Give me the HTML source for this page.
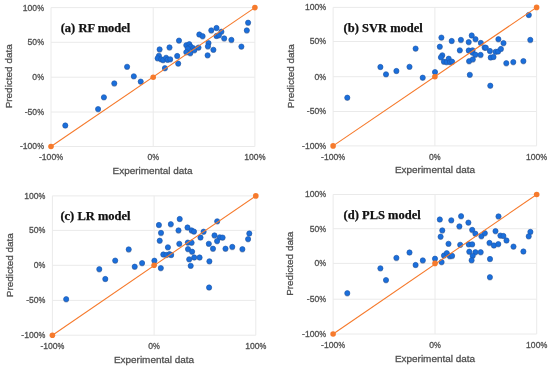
<!DOCTYPE html>
<html><head><meta charset="utf-8"><style>
html,body{margin:0;padding:0;background:#fff;}
svg{display:block;will-change:transform;font-family:"Liberation Sans",sans-serif;}
</style></head><body>
<svg width="550" height="367" viewBox="0 0 550 367">
<rect width="550" height="367" fill="#fff"/>
<g stroke="#eaeaea" stroke-width="1"><line x1="51.00" y1="7.60" x2="254.90" y2="7.60"/><line x1="51.00" y1="42.30" x2="254.90" y2="42.30"/><line x1="51.00" y1="77.20" x2="254.90" y2="77.20"/><line x1="51.00" y1="112.00" x2="254.90" y2="112.00"/><line x1="51.00" y1="146.50" x2="254.90" y2="146.50"/><line x1="51.00" y1="7.60" x2="51.00" y2="146.50"/><line x1="153.20" y1="7.60" x2="153.20" y2="146.50"/><line x1="254.90" y1="7.60" x2="254.90" y2="146.50"/></g>
<g fill="#505050" font-size="8.6" stroke="#505050" stroke-width="0.3"><text x="37.15" y="10.50" text-anchor="end">100</text><text x="37.15" y="10.50" textLength="6.85" lengthAdjust="spacingAndGlyphs">%</text><text x="37.15" y="45.20" text-anchor="end">50</text><text x="37.15" y="45.20" textLength="6.85" lengthAdjust="spacingAndGlyphs">%</text><text x="37.15" y="80.10" text-anchor="end">0</text><text x="37.15" y="80.10" textLength="6.85" lengthAdjust="spacingAndGlyphs">%</text><text x="37.15" y="114.90" text-anchor="end">-50</text><text x="37.15" y="114.90" textLength="6.85" lengthAdjust="spacingAndGlyphs">%</text><text x="37.15" y="149.40" text-anchor="end">-100</text><text x="37.15" y="149.40" textLength="6.85" lengthAdjust="spacingAndGlyphs">%</text><text x="56.18" y="159.50" text-anchor="end">-100</text><text x="56.18" y="159.50" textLength="6.85" lengthAdjust="spacingAndGlyphs">%</text><text x="152.17" y="159.50" text-anchor="end">0</text><text x="152.17" y="159.50" textLength="6.85" lengthAdjust="spacingAndGlyphs">%</text><text x="258.65" y="159.50" text-anchor="end">100</text><text x="258.65" y="159.50" textLength="6.85" lengthAdjust="spacingAndGlyphs">%</text></g>
<text x="152.60" y="174.00" text-anchor="middle" fill="#505050" font-size="9.95" stroke="#505050" stroke-width="0.3">Experimental data</text>
<text transform="translate(11.80,76.30) rotate(-90)" text-anchor="middle" fill="#505050" font-size="9.95" stroke="#505050" stroke-width="0.3">Predicted data</text>
<g fill="rgba(30,50,90,0.35)"><circle cx="65.3" cy="126.0" r="2.8"/><circle cx="98.1" cy="109.6" r="2.8"/><circle cx="103.9" cy="97.8" r="2.8"/><circle cx="114.3" cy="83.9" r="2.8"/><circle cx="127.1" cy="67.3" r="2.8"/><circle cx="133.8" cy="76.8" r="2.8"/><circle cx="140.7" cy="82.1" r="2.8"/><circle cx="159.6" cy="49.9" r="2.8"/><circle cx="169.5" cy="47.9" r="2.8"/><circle cx="179.0" cy="41.1" r="2.8"/><circle cx="177.2" cy="56.5" r="2.8"/><circle cx="178.2" cy="64.1" r="2.8"/><circle cx="164.9" cy="68.7" r="2.8"/><circle cx="158.9" cy="56.3" r="2.8"/><circle cx="157.6" cy="58.8" r="2.8"/><circle cx="161.1" cy="59.8" r="2.8"/><circle cx="163.1" cy="60.6" r="2.8"/><circle cx="166.1" cy="58.3" r="2.8"/><circle cx="167.6" cy="60.3" r="2.8"/><circle cx="170.2" cy="59.8" r="2.8"/><circle cx="186.3" cy="45.7" r="2.8"/><circle cx="189.3" cy="44.7" r="2.8"/><circle cx="190.8" cy="47.2" r="2.8"/><circle cx="187.8" cy="49.2" r="2.8"/><circle cx="193.3" cy="48.7" r="2.8"/><circle cx="186.3" cy="52.7" r="2.8"/><circle cx="190.3" cy="53.7" r="2.8"/><circle cx="194.4" cy="50.7" r="2.8"/><circle cx="198.5" cy="48.1" r="2.8"/><circle cx="248.1" cy="23.2" r="2.8"/><circle cx="246.8" cy="30.9" r="2.8"/><circle cx="241.4" cy="47.1" r="2.8"/><circle cx="231.4" cy="40.4" r="2.8"/><circle cx="224.2" cy="38.9" r="2.8"/><circle cx="221.4" cy="32.2" r="2.8"/><circle cx="216.5" cy="28.5" r="2.8"/><circle cx="211.3" cy="30.9" r="2.8"/><circle cx="216.5" cy="36.5" r="2.8"/><circle cx="218.9" cy="35.8" r="2.8"/><circle cx="199.3" cy="35.0" r="2.8"/><circle cx="202.6" cy="36.7" r="2.8"/><circle cx="208.5" cy="43.6" r="2.8"/><circle cx="207.9" cy="46.9" r="2.8"/><circle cx="213.4" cy="50.3" r="2.8"/><circle cx="207.6" cy="55.8" r="2.8"/></g>
<g fill="#1a6fdc" stroke="#1d58ad" stroke-width="0.6"><circle cx="65.3" cy="125.4" r="2.55"/><circle cx="98.1" cy="109.0" r="2.55"/><circle cx="103.9" cy="97.2" r="2.55"/><circle cx="114.3" cy="83.3" r="2.55"/><circle cx="127.1" cy="66.7" r="2.55"/><circle cx="133.8" cy="76.2" r="2.55"/><circle cx="140.7" cy="81.5" r="2.55"/><circle cx="159.6" cy="49.3" r="2.55"/><circle cx="169.5" cy="47.3" r="2.55"/><circle cx="179.0" cy="40.5" r="2.55"/><circle cx="177.2" cy="55.9" r="2.55"/><circle cx="178.2" cy="63.5" r="2.55"/><circle cx="164.9" cy="68.1" r="2.55"/><circle cx="158.9" cy="55.7" r="2.55"/><circle cx="157.6" cy="58.2" r="2.55"/><circle cx="161.1" cy="59.2" r="2.55"/><circle cx="163.1" cy="60.0" r="2.55"/><circle cx="166.1" cy="57.7" r="2.55"/><circle cx="167.6" cy="59.7" r="2.55"/><circle cx="170.2" cy="59.2" r="2.55"/><circle cx="186.3" cy="45.1" r="2.55"/><circle cx="189.3" cy="44.1" r="2.55"/><circle cx="190.8" cy="46.6" r="2.55"/><circle cx="187.8" cy="48.6" r="2.55"/><circle cx="193.3" cy="48.1" r="2.55"/><circle cx="186.3" cy="52.1" r="2.55"/><circle cx="190.3" cy="53.1" r="2.55"/><circle cx="194.4" cy="50.1" r="2.55"/><circle cx="198.5" cy="47.5" r="2.55"/><circle cx="248.1" cy="22.6" r="2.55"/><circle cx="246.8" cy="30.3" r="2.55"/><circle cx="241.4" cy="46.5" r="2.55"/><circle cx="231.4" cy="39.8" r="2.55"/><circle cx="224.2" cy="38.3" r="2.55"/><circle cx="221.4" cy="31.6" r="2.55"/><circle cx="216.5" cy="27.9" r="2.55"/><circle cx="211.3" cy="30.3" r="2.55"/><circle cx="216.5" cy="35.9" r="2.55"/><circle cx="218.9" cy="35.2" r="2.55"/><circle cx="199.3" cy="34.4" r="2.55"/><circle cx="202.6" cy="36.1" r="2.55"/><circle cx="208.5" cy="43.0" r="2.55"/><circle cx="207.9" cy="46.3" r="2.55"/><circle cx="213.4" cy="49.7" r="2.55"/><circle cx="207.6" cy="55.2" r="2.55"/></g>
<line x1="51.00" y1="146.50" x2="254.90" y2="7.60" stroke="#f67a2c" stroke-width="1.05"/>
<g fill="#f67a2c"><circle cx="51.00" cy="146.50" r="2.8"/><circle cx="153.20" cy="77.20" r="2.8"/><circle cx="254.90" cy="7.60" r="2.8"/></g>
<text x="60.70" y="31.60" font-family="Liberation Serif" font-weight="bold" font-size="12.5" fill="#111" stroke="#111" stroke-width="0.25">(a) RF model</text>
<g stroke="#eaeaea" stroke-width="1"><line x1="333.10" y1="7.40" x2="536.60" y2="7.40"/><line x1="333.10" y1="41.50" x2="536.60" y2="41.50"/><line x1="333.10" y1="76.70" x2="536.60" y2="76.70"/><line x1="333.10" y1="111.50" x2="536.60" y2="111.50"/><line x1="333.10" y1="145.90" x2="536.60" y2="145.90"/><line x1="333.10" y1="7.40" x2="333.10" y2="145.90"/><line x1="434.90" y1="7.40" x2="434.90" y2="145.90"/><line x1="536.60" y1="7.40" x2="536.60" y2="145.90"/></g>
<g fill="#505050" font-size="8.6" stroke="#505050" stroke-width="0.3"><text x="319.25" y="10.30" text-anchor="end">100</text><text x="319.25" y="10.30" textLength="6.85" lengthAdjust="spacingAndGlyphs">%</text><text x="319.25" y="44.40" text-anchor="end">50</text><text x="319.25" y="44.40" textLength="6.85" lengthAdjust="spacingAndGlyphs">%</text><text x="319.25" y="79.60" text-anchor="end">0</text><text x="319.25" y="79.60" textLength="6.85" lengthAdjust="spacingAndGlyphs">%</text><text x="319.25" y="114.40" text-anchor="end">-50</text><text x="319.25" y="114.40" textLength="6.85" lengthAdjust="spacingAndGlyphs">%</text><text x="319.25" y="148.80" text-anchor="end">-100</text><text x="319.25" y="148.80" textLength="6.85" lengthAdjust="spacingAndGlyphs">%</text><text x="338.28" y="160.10" text-anchor="end">-100</text><text x="338.28" y="160.10" textLength="6.85" lengthAdjust="spacingAndGlyphs">%</text><text x="433.87" y="160.10" text-anchor="end">0</text><text x="433.87" y="160.10" textLength="6.85" lengthAdjust="spacingAndGlyphs">%</text><text x="540.35" y="160.10" text-anchor="end">100</text><text x="540.35" y="160.10" textLength="6.85" lengthAdjust="spacingAndGlyphs">%</text></g>
<text x="435.00" y="172.90" text-anchor="middle" fill="#505050" font-size="9.95" stroke="#505050" stroke-width="0.3">Experimental data</text>
<text transform="translate(293.50,76.20) rotate(-90)" text-anchor="middle" fill="#505050" font-size="9.95" stroke="#505050" stroke-width="0.3">Predicted data</text>
<g fill="rgba(30,50,90,0.35)"><circle cx="347.3" cy="98.2" r="2.8"/><circle cx="380.4" cy="67.5" r="2.8"/><circle cx="386.0" cy="74.8" r="2.8"/><circle cx="396.4" cy="71.5" r="2.8"/><circle cx="409.5" cy="67.3" r="2.8"/><circle cx="415.6" cy="49.1" r="2.8"/><circle cx="422.7" cy="78.2" r="2.8"/><circle cx="435.0" cy="72.6" r="2.8"/><circle cx="441.4" cy="38.1" r="2.8"/><circle cx="439.8" cy="47.2" r="2.8"/><circle cx="442.3" cy="55.8" r="2.8"/><circle cx="440.9" cy="57.8" r="2.8"/><circle cx="443.9" cy="62.2" r="2.8"/><circle cx="446.6" cy="62.6" r="2.8"/><circle cx="448.7" cy="59.2" r="2.8"/><circle cx="450.0" cy="62.6" r="2.8"/><circle cx="452.1" cy="62.2" r="2.8"/><circle cx="451.7" cy="41.5" r="2.8"/><circle cx="460.9" cy="40.4" r="2.8"/><circle cx="459.8" cy="50.8" r="2.8"/><circle cx="468.7" cy="42.6" r="2.8"/><circle cx="471.7" cy="36.0" r="2.8"/><circle cx="475.5" cy="39.7" r="2.8"/><circle cx="468.7" cy="51.0" r="2.8"/><circle cx="472.5" cy="50.8" r="2.8"/><circle cx="472.5" cy="53.1" r="2.8"/><circle cx="475.4" cy="55.2" r="2.8"/><circle cx="469.1" cy="61.7" r="2.8"/><circle cx="472.8" cy="59.9" r="2.8"/><circle cx="469.8" cy="75.3" r="2.8"/><circle cx="480.8" cy="43.4" r="2.8"/><circle cx="484.6" cy="48.1" r="2.8"/><circle cx="480.6" cy="55.4" r="2.8"/><circle cx="490.3" cy="86.2" r="2.8"/><circle cx="528.8" cy="15.5" r="2.8"/><circle cx="530.3" cy="40.4" r="2.8"/><circle cx="498.4" cy="39.7" r="2.8"/><circle cx="503.5" cy="43.6" r="2.8"/><circle cx="485.8" cy="48.2" r="2.8"/><circle cx="489.9" cy="51.5" r="2.8"/><circle cx="495.6" cy="52.3" r="2.8"/><circle cx="498.1" cy="52.0" r="2.8"/><circle cx="500.9" cy="49.5" r="2.8"/><circle cx="490.7" cy="58.0" r="2.8"/><circle cx="493.5" cy="57.5" r="2.8"/><circle cx="506.3" cy="63.7" r="2.8"/><circle cx="513.3" cy="62.6" r="2.8"/><circle cx="523.4" cy="61.6" r="2.8"/></g>
<g fill="#1a6fdc" stroke="#1d58ad" stroke-width="0.6"><circle cx="347.3" cy="97.6" r="2.55"/><circle cx="380.4" cy="66.9" r="2.55"/><circle cx="386.0" cy="74.2" r="2.55"/><circle cx="396.4" cy="70.9" r="2.55"/><circle cx="409.5" cy="66.7" r="2.55"/><circle cx="415.6" cy="48.5" r="2.55"/><circle cx="422.7" cy="77.6" r="2.55"/><circle cx="435.0" cy="72.0" r="2.55"/><circle cx="441.4" cy="37.5" r="2.55"/><circle cx="439.8" cy="46.6" r="2.55"/><circle cx="442.3" cy="55.2" r="2.55"/><circle cx="440.9" cy="57.2" r="2.55"/><circle cx="443.9" cy="61.6" r="2.55"/><circle cx="446.6" cy="62.0" r="2.55"/><circle cx="448.7" cy="58.6" r="2.55"/><circle cx="450.0" cy="62.0" r="2.55"/><circle cx="452.1" cy="61.6" r="2.55"/><circle cx="451.7" cy="40.9" r="2.55"/><circle cx="460.9" cy="39.8" r="2.55"/><circle cx="459.8" cy="50.2" r="2.55"/><circle cx="468.7" cy="42.0" r="2.55"/><circle cx="471.7" cy="35.4" r="2.55"/><circle cx="475.5" cy="39.1" r="2.55"/><circle cx="468.7" cy="50.4" r="2.55"/><circle cx="472.5" cy="50.2" r="2.55"/><circle cx="472.5" cy="52.5" r="2.55"/><circle cx="475.4" cy="54.6" r="2.55"/><circle cx="469.1" cy="61.1" r="2.55"/><circle cx="472.8" cy="59.3" r="2.55"/><circle cx="469.8" cy="74.7" r="2.55"/><circle cx="480.8" cy="42.8" r="2.55"/><circle cx="484.6" cy="47.5" r="2.55"/><circle cx="480.6" cy="54.8" r="2.55"/><circle cx="490.3" cy="85.6" r="2.55"/><circle cx="528.8" cy="14.9" r="2.55"/><circle cx="530.3" cy="39.8" r="2.55"/><circle cx="498.4" cy="39.1" r="2.55"/><circle cx="503.5" cy="43.0" r="2.55"/><circle cx="485.8" cy="47.6" r="2.55"/><circle cx="489.9" cy="50.9" r="2.55"/><circle cx="495.6" cy="51.7" r="2.55"/><circle cx="498.1" cy="51.4" r="2.55"/><circle cx="500.9" cy="48.9" r="2.55"/><circle cx="490.7" cy="57.4" r="2.55"/><circle cx="493.5" cy="56.9" r="2.55"/><circle cx="506.3" cy="63.1" r="2.55"/><circle cx="513.3" cy="62.0" r="2.55"/><circle cx="523.4" cy="61.0" r="2.55"/></g>
<line x1="333.10" y1="145.90" x2="536.60" y2="7.40" stroke="#f67a2c" stroke-width="1.05"/>
<g fill="#f67a2c"><circle cx="333.10" cy="145.90" r="2.8"/><circle cx="434.90" cy="76.70" r="2.8"/><circle cx="536.60" cy="7.40" r="2.8"/></g>
<text x="343.60" y="32.00" font-family="Liberation Serif" font-weight="bold" font-size="12.5" fill="#111" stroke="#111" stroke-width="0.25">(b) SVR model</text>
<g stroke="#eaeaea" stroke-width="1"><line x1="52.40" y1="195.90" x2="255.80" y2="195.90"/><line x1="52.40" y1="230.40" x2="255.80" y2="230.40"/><line x1="52.40" y1="265.30" x2="255.80" y2="265.30"/><line x1="52.40" y1="300.40" x2="255.80" y2="300.40"/><line x1="52.40" y1="335.20" x2="255.80" y2="335.20"/><line x1="52.40" y1="195.90" x2="52.40" y2="335.20"/><line x1="154.10" y1="195.90" x2="154.10" y2="335.20"/><line x1="255.80" y1="195.90" x2="255.80" y2="335.20"/></g>
<g fill="#505050" font-size="8.6" stroke="#505050" stroke-width="0.3"><text x="38.55" y="198.80" text-anchor="end">100</text><text x="38.55" y="198.80" textLength="6.85" lengthAdjust="spacingAndGlyphs">%</text><text x="38.55" y="233.30" text-anchor="end">50</text><text x="38.55" y="233.30" textLength="6.85" lengthAdjust="spacingAndGlyphs">%</text><text x="38.55" y="268.20" text-anchor="end">0</text><text x="38.55" y="268.20" textLength="6.85" lengthAdjust="spacingAndGlyphs">%</text><text x="38.55" y="303.30" text-anchor="end">-50</text><text x="38.55" y="303.30" textLength="6.85" lengthAdjust="spacingAndGlyphs">%</text><text x="38.55" y="338.10" text-anchor="end">-100</text><text x="38.55" y="338.10" textLength="6.85" lengthAdjust="spacingAndGlyphs">%</text><text x="57.58" y="349.40" text-anchor="end">-100</text><text x="57.58" y="349.40" textLength="6.85" lengthAdjust="spacingAndGlyphs">%</text><text x="153.07" y="349.40" text-anchor="end">0</text><text x="153.07" y="349.40" textLength="6.85" lengthAdjust="spacingAndGlyphs">%</text><text x="259.55" y="349.40" text-anchor="end">100</text><text x="259.55" y="349.40" textLength="6.85" lengthAdjust="spacingAndGlyphs">%</text></g>
<text x="154.00" y="362.60" text-anchor="middle" fill="#505050" font-size="9.95" stroke="#505050" stroke-width="0.3">Experimental data</text>
<text transform="translate(12.60,265.20) rotate(-90)" text-anchor="middle" fill="#505050" font-size="9.95" stroke="#505050" stroke-width="0.3">Predicted data</text>
<g fill="rgba(30,50,90,0.35)"><circle cx="66.2" cy="299.7" r="2.8"/><circle cx="99.3" cy="269.7" r="2.8"/><circle cx="105.3" cy="279.5" r="2.8"/><circle cx="115.2" cy="261.1" r="2.8"/><circle cx="128.7" cy="249.9" r="2.8"/><circle cx="134.7" cy="267.2" r="2.8"/><circle cx="142.1" cy="263.6" r="2.8"/><circle cx="154.4" cy="261.2" r="2.8"/><circle cx="160.8" cy="268.6" r="2.8"/><circle cx="158.9" cy="225.5" r="2.8"/><circle cx="170.8" cy="224.7" r="2.8"/><circle cx="179.7" cy="219.5" r="2.8"/><circle cx="161.0" cy="233.4" r="2.8"/><circle cx="178.5" cy="230.9" r="2.8"/><circle cx="159.7" cy="241.2" r="2.8"/><circle cx="167.9" cy="247.8" r="2.8"/><circle cx="179.3" cy="244.3" r="2.8"/><circle cx="163.3" cy="255.0" r="2.8"/><circle cx="166.3" cy="255.5" r="2.8"/><circle cx="169.5" cy="254.6" r="2.8"/><circle cx="171.2" cy="255.5" r="2.8"/><circle cx="187.5" cy="228.0" r="2.8"/><circle cx="191.6" cy="230.9" r="2.8"/><circle cx="194.0" cy="232.1" r="2.8"/><circle cx="203.6" cy="232.2" r="2.8"/><circle cx="200.5" cy="238.0" r="2.8"/><circle cx="187.8" cy="243.1" r="2.8"/><circle cx="191.6" cy="243.2" r="2.8"/><circle cx="188.0" cy="249.6" r="2.8"/><circle cx="192.1" cy="252.2" r="2.8"/><circle cx="189.2" cy="259.8" r="2.8"/><circle cx="194.2" cy="258.0" r="2.8"/><circle cx="199.6" cy="258.0" r="2.8"/><circle cx="190.7" cy="266.3" r="2.8"/><circle cx="217.2" cy="221.8" r="2.8"/><circle cx="214.5" cy="235.9" r="2.8"/><circle cx="219.8" cy="237.8" r="2.8"/><circle cx="222.6" cy="238.1" r="2.8"/><circle cx="217.1" cy="241.6" r="2.8"/><circle cx="208.8" cy="244.3" r="2.8"/><circle cx="213.0" cy="249.2" r="2.8"/><circle cx="225.5" cy="249.2" r="2.8"/><circle cx="232.3" cy="247.4" r="2.8"/><circle cx="242.4" cy="249.7" r="2.8"/><circle cx="249.3" cy="234.0" r="2.8"/><circle cx="248.1" cy="239.6" r="2.8"/><circle cx="209.4" cy="261.8" r="2.8"/><circle cx="209.1" cy="288.0" r="2.8"/></g>
<g fill="#1a6fdc" stroke="#1d58ad" stroke-width="0.6"><circle cx="66.2" cy="299.1" r="2.55"/><circle cx="99.3" cy="269.1" r="2.55"/><circle cx="105.3" cy="278.9" r="2.55"/><circle cx="115.2" cy="260.5" r="2.55"/><circle cx="128.7" cy="249.3" r="2.55"/><circle cx="134.7" cy="266.6" r="2.55"/><circle cx="142.1" cy="263.0" r="2.55"/><circle cx="154.4" cy="260.6" r="2.55"/><circle cx="160.8" cy="268.0" r="2.55"/><circle cx="158.9" cy="224.9" r="2.55"/><circle cx="170.8" cy="224.1" r="2.55"/><circle cx="179.7" cy="218.9" r="2.55"/><circle cx="161.0" cy="232.8" r="2.55"/><circle cx="178.5" cy="230.3" r="2.55"/><circle cx="159.7" cy="240.6" r="2.55"/><circle cx="167.9" cy="247.2" r="2.55"/><circle cx="179.3" cy="243.7" r="2.55"/><circle cx="163.3" cy="254.4" r="2.55"/><circle cx="166.3" cy="254.9" r="2.55"/><circle cx="169.5" cy="254.0" r="2.55"/><circle cx="171.2" cy="254.9" r="2.55"/><circle cx="187.5" cy="227.4" r="2.55"/><circle cx="191.6" cy="230.3" r="2.55"/><circle cx="194.0" cy="231.5" r="2.55"/><circle cx="203.6" cy="231.6" r="2.55"/><circle cx="200.5" cy="237.4" r="2.55"/><circle cx="187.8" cy="242.5" r="2.55"/><circle cx="191.6" cy="242.6" r="2.55"/><circle cx="188.0" cy="249.0" r="2.55"/><circle cx="192.1" cy="251.6" r="2.55"/><circle cx="189.2" cy="259.2" r="2.55"/><circle cx="194.2" cy="257.4" r="2.55"/><circle cx="199.6" cy="257.4" r="2.55"/><circle cx="190.7" cy="265.7" r="2.55"/><circle cx="217.2" cy="221.2" r="2.55"/><circle cx="214.5" cy="235.3" r="2.55"/><circle cx="219.8" cy="237.2" r="2.55"/><circle cx="222.6" cy="237.5" r="2.55"/><circle cx="217.1" cy="241.0" r="2.55"/><circle cx="208.8" cy="243.7" r="2.55"/><circle cx="213.0" cy="248.6" r="2.55"/><circle cx="225.5" cy="248.6" r="2.55"/><circle cx="232.3" cy="246.8" r="2.55"/><circle cx="242.4" cy="249.1" r="2.55"/><circle cx="249.3" cy="233.4" r="2.55"/><circle cx="248.1" cy="239.0" r="2.55"/><circle cx="209.4" cy="261.2" r="2.55"/><circle cx="209.1" cy="287.4" r="2.55"/></g>
<line x1="52.40" y1="335.20" x2="255.80" y2="195.90" stroke="#f67a2c" stroke-width="1.05"/>
<g fill="#f67a2c"><circle cx="52.40" cy="335.20" r="2.8"/><circle cx="154.10" cy="265.30" r="2.8"/><circle cx="255.80" cy="195.90" r="2.8"/></g>
<text x="60.40" y="220.30" font-family="Liberation Serif" font-weight="bold" font-size="12.5" fill="#111" stroke="#111" stroke-width="0.25">(c) LR model</text>
<g stroke="#eaeaea" stroke-width="1"><line x1="333.10" y1="194.50" x2="536.70" y2="194.50"/><line x1="333.10" y1="228.70" x2="536.70" y2="228.70"/><line x1="333.10" y1="263.40" x2="536.70" y2="263.40"/><line x1="333.10" y1="299.20" x2="536.70" y2="299.20"/><line x1="333.10" y1="334.00" x2="536.70" y2="334.00"/><line x1="333.10" y1="194.50" x2="333.10" y2="334.00"/><line x1="435.00" y1="194.50" x2="435.00" y2="334.00"/><line x1="536.70" y1="194.50" x2="536.70" y2="334.00"/></g>
<g fill="#505050" font-size="8.6" stroke="#505050" stroke-width="0.3"><text x="319.25" y="197.40" text-anchor="end">100</text><text x="319.25" y="197.40" textLength="6.85" lengthAdjust="spacingAndGlyphs">%</text><text x="319.25" y="231.60" text-anchor="end">50</text><text x="319.25" y="231.60" textLength="6.85" lengthAdjust="spacingAndGlyphs">%</text><text x="319.25" y="266.30" text-anchor="end">0</text><text x="319.25" y="266.30" textLength="6.85" lengthAdjust="spacingAndGlyphs">%</text><text x="319.25" y="302.10" text-anchor="end">-50</text><text x="319.25" y="302.10" textLength="6.85" lengthAdjust="spacingAndGlyphs">%</text><text x="319.25" y="336.90" text-anchor="end">-100</text><text x="319.25" y="336.90" textLength="6.85" lengthAdjust="spacingAndGlyphs">%</text><text x="338.28" y="347.70" text-anchor="end">-100</text><text x="338.28" y="347.70" textLength="6.85" lengthAdjust="spacingAndGlyphs">%</text><text x="433.97" y="347.70" text-anchor="end">0</text><text x="433.97" y="347.70" textLength="6.85" lengthAdjust="spacingAndGlyphs">%</text><text x="540.45" y="347.70" text-anchor="end">100</text><text x="540.45" y="347.70" textLength="6.85" lengthAdjust="spacingAndGlyphs">%</text></g>
<text x="435.00" y="361.70" text-anchor="middle" fill="#505050" font-size="9.95" stroke="#505050" stroke-width="0.3">Experimental data</text>
<text transform="translate(293.00,263.80) rotate(-90)" text-anchor="middle" fill="#505050" font-size="9.95" stroke="#505050" stroke-width="0.3">Predicted data</text>
<g fill="rgba(30,50,90,0.35)"><circle cx="347.3" cy="293.7" r="2.8"/><circle cx="380.4" cy="268.8" r="2.8"/><circle cx="386.0" cy="280.6" r="2.8"/><circle cx="396.4" cy="258.4" r="2.8"/><circle cx="409.5" cy="253.0" r="2.8"/><circle cx="415.6" cy="265.5" r="2.8"/><circle cx="422.8" cy="260.9" r="2.8"/><circle cx="435.0" cy="259.2" r="2.8"/><circle cx="441.6" cy="262.6" r="2.8"/><circle cx="439.8" cy="220.0" r="2.8"/><circle cx="451.3" cy="220.8" r="2.8"/><circle cx="461.1" cy="216.7" r="2.8"/><circle cx="468.4" cy="223.1" r="2.8"/><circle cx="459.4" cy="226.9" r="2.8"/><circle cx="442.3" cy="230.9" r="2.8"/><circle cx="440.6" cy="237.2" r="2.8"/><circle cx="448.5" cy="244.3" r="2.8"/><circle cx="460.2" cy="245.3" r="2.8"/><circle cx="468.7" cy="244.8" r="2.8"/><circle cx="472.2" cy="244.8" r="2.8"/><circle cx="472.2" cy="230.4" r="2.8"/><circle cx="475.4" cy="234.2" r="2.8"/><circle cx="481.4" cy="236.7" r="2.8"/><circle cx="484.8" cy="233.7" r="2.8"/><circle cx="489.5" cy="243.4" r="2.8"/><circle cx="444.0" cy="256.0" r="2.8"/><circle cx="446.8" cy="253.7" r="2.8"/><circle cx="449.8" cy="256.7" r="2.8"/><circle cx="452.1" cy="256.4" r="2.8"/><circle cx="469.3" cy="252.2" r="2.8"/><circle cx="475.4" cy="252.7" r="2.8"/><circle cx="480.7" cy="252.7" r="2.8"/><circle cx="472.7" cy="256.3" r="2.8"/><circle cx="471.6" cy="260.8" r="2.8"/><circle cx="490.0" cy="259.5" r="2.8"/><circle cx="498.5" cy="216.9" r="2.8"/><circle cx="495.5" cy="231.6" r="2.8"/><circle cx="500.4" cy="236.1" r="2.8"/><circle cx="503.4" cy="236.5" r="2.8"/><circle cx="506.5" cy="241.0" r="2.8"/><circle cx="493.9" cy="246.0" r="2.8"/><circle cx="498.3" cy="244.6" r="2.8"/><circle cx="513.5" cy="247.1" r="2.8"/><circle cx="523.4" cy="252.0" r="2.8"/><circle cx="530.4" cy="232.4" r="2.8"/><circle cx="528.7" cy="236.8" r="2.8"/><circle cx="489.9" cy="277.7" r="2.8"/></g>
<g fill="#1a6fdc" stroke="#1d58ad" stroke-width="0.6"><circle cx="347.3" cy="293.1" r="2.55"/><circle cx="380.4" cy="268.2" r="2.55"/><circle cx="386.0" cy="280.0" r="2.55"/><circle cx="396.4" cy="257.8" r="2.55"/><circle cx="409.5" cy="252.4" r="2.55"/><circle cx="415.6" cy="264.9" r="2.55"/><circle cx="422.8" cy="260.3" r="2.55"/><circle cx="435.0" cy="258.6" r="2.55"/><circle cx="441.6" cy="262.0" r="2.55"/><circle cx="439.8" cy="219.4" r="2.55"/><circle cx="451.3" cy="220.2" r="2.55"/><circle cx="461.1" cy="216.1" r="2.55"/><circle cx="468.4" cy="222.5" r="2.55"/><circle cx="459.4" cy="226.3" r="2.55"/><circle cx="442.3" cy="230.3" r="2.55"/><circle cx="440.6" cy="236.6" r="2.55"/><circle cx="448.5" cy="243.7" r="2.55"/><circle cx="460.2" cy="244.7" r="2.55"/><circle cx="468.7" cy="244.2" r="2.55"/><circle cx="472.2" cy="244.2" r="2.55"/><circle cx="472.2" cy="229.8" r="2.55"/><circle cx="475.4" cy="233.6" r="2.55"/><circle cx="481.4" cy="236.1" r="2.55"/><circle cx="484.8" cy="233.1" r="2.55"/><circle cx="489.5" cy="242.8" r="2.55"/><circle cx="444.0" cy="255.4" r="2.55"/><circle cx="446.8" cy="253.1" r="2.55"/><circle cx="449.8" cy="256.1" r="2.55"/><circle cx="452.1" cy="255.8" r="2.55"/><circle cx="469.3" cy="251.6" r="2.55"/><circle cx="475.4" cy="252.1" r="2.55"/><circle cx="480.7" cy="252.1" r="2.55"/><circle cx="472.7" cy="255.7" r="2.55"/><circle cx="471.6" cy="260.2" r="2.55"/><circle cx="490.0" cy="258.9" r="2.55"/><circle cx="498.5" cy="216.3" r="2.55"/><circle cx="495.5" cy="231.0" r="2.55"/><circle cx="500.4" cy="235.5" r="2.55"/><circle cx="503.4" cy="235.9" r="2.55"/><circle cx="506.5" cy="240.4" r="2.55"/><circle cx="493.9" cy="245.4" r="2.55"/><circle cx="498.3" cy="244.0" r="2.55"/><circle cx="513.5" cy="246.5" r="2.55"/><circle cx="523.4" cy="251.4" r="2.55"/><circle cx="530.4" cy="231.8" r="2.55"/><circle cx="528.7" cy="236.2" r="2.55"/><circle cx="489.9" cy="277.1" r="2.55"/></g>
<line x1="333.10" y1="334.00" x2="536.70" y2="194.50" stroke="#f67a2c" stroke-width="1.05"/>
<g fill="#f67a2c"><circle cx="333.10" cy="334.00" r="2.8"/><circle cx="435.00" cy="263.40" r="2.8"/><circle cx="536.70" cy="194.50" r="2.8"/></g>
<text x="343.60" y="219.30" font-family="Liberation Serif" font-weight="bold" font-size="12.5" fill="#111" stroke="#111" stroke-width="0.25">(d) PLS model</text>
</svg>
</body></html>
